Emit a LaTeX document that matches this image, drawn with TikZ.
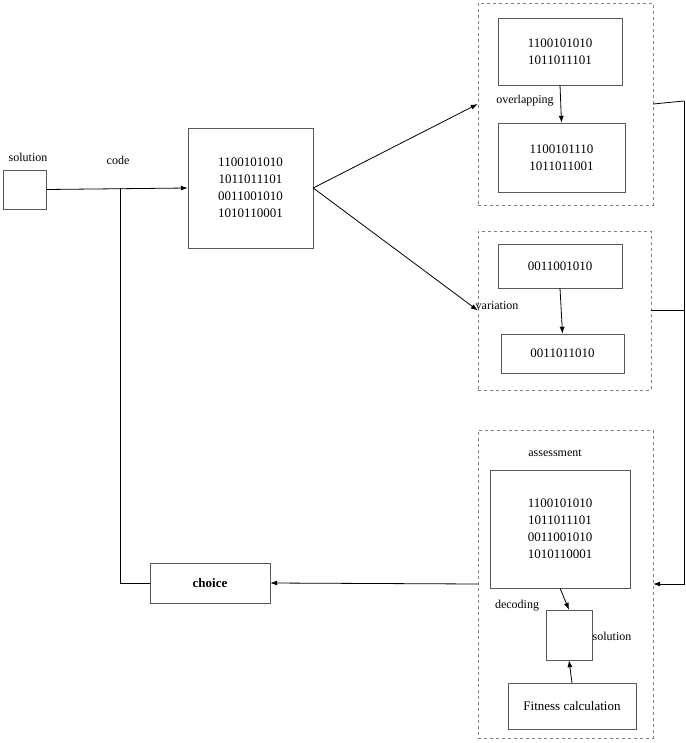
\documentclass[tikz,border=0pt]{standalone}
\usepackage{fontspec}
\setmainfont{Liberation Serif}
\usetikzlibrary{arrows.meta}
\begin{document}
\begin{tikzpicture}[x=1pt,y=-1pt,>={Latex[length=7pt,width=5pt]},
  font=\fontsize{13}{17}\selectfont]
  \tikzset{codebox/.style={draw, gray!70!black, text=black, align=center, inner sep=0pt},
    groupbox/.style={draw, gray, dashed},
    flow/.style={->, thick},
    lbl/.style={font=\fontsize{12}{14}\selectfont}}
  \useasboundingbox (0,0) rectangle (685,743);
  % left part
  \node[codebox, minimum width=43, minimum height=39] (sol) at (24.5,189.5) {};
  \node[lbl] (sollbl) at (28,157) {solution};
  \node[lbl] (codelbl) at (118,160) {code};
  \node[codebox, minimum width=125, minimum height=120] (pop) at (250.5,188)
    {1100101010\\1011011101\\0011001010\\1010110001};
  \coordinate (split) at (120,188);
  % groups
  \node[groupbox, minimum width=175, minimum height=202] (grpa) at (565.5,104) {};
  \node[groupbox, minimum width=173, minimum height=159] (grpb) at (564.5,310.5) {};
  \node[groupbox, minimum width=175, minimum height=308] (grpc) at (565.5,584) {};
  % overlapping
  \node[codebox, minimum width=124, minimum height=67] (ova) at (560,51.5) {1100101010\\1011011101};
  \node[codebox, minimum width=127, minimum height=69] (ovb) at (561.5,157.5) {1100101110\\1011011001};
  \node[lbl] (ovlbl) at (525,101) {overlapping};
  % variation
  \node[codebox, minimum width=124, minimum height=44] (vara) at (560,266) {0011001010};
  \node[codebox, minimum width=123, minimum height=39] (varb) at (562.5,353.5) {0011011010};
  \node[lbl] (varlbl) at (497,306) {variation};
  % assessment
  \node[lbl] (aslbl) at (555,453) {assessment};
  \node[codebox, minimum width=140, minimum height=118] (aspop) at (560,529)
    {1100101010\\1011011101\\0011001010\\1010110001};
  \node[lbl] (declbl) at (517,606) {decoding};
  \node[codebox, minimum width=46, minimum height=50] (assol) at (569,635) {};
  \node[lbl] (assollbl) at (612,636) {solution};
  \node[codebox, minimum width=128, minimum height=46] (fit) at (572,706) {Fitness calculation};
  % choice
  \node[codebox, minimum width=120, minimum height=40] (choice) at (210,583) {\textbf{choice}};
  % connectors
  \draw[flow] (sol.east) -- (pop.west);
  \draw[flow] (pop.east) -- (grpa.west);
  \draw[flow] (pop.east) -- (grpb.west);
  \draw[flow] (ova.south) -- (ovb.north);
  \draw[flow] (vara.south) -- (varb.north);
  \draw[flow] (aspop.south) -- (assol.north);
  \draw[flow] (fit.north) -- (assol.south);
  \coordinate (rail) at (684,101);
  \draw[thick] (grpa.east) -- (rail);
  \draw[thick] (grpb.east) -- (grpb.east -| rail);
  \draw[flow] (rail) |- (grpc.east);
  \draw[flow] (grpc.west) -- (choice.east);
  \draw[thick] (choice.west) -| (split);
\end{tikzpicture}
\end{document}
